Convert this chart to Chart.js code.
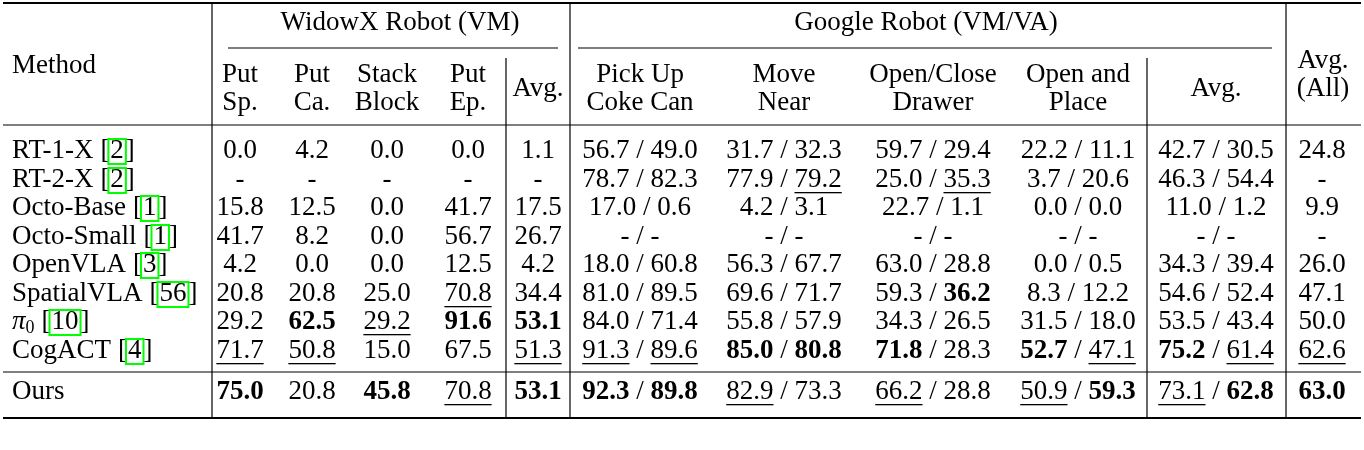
<!DOCTYPE html>
<html><head><meta charset="utf-8">
<script src="https://cdn.jsdelivr.net/npm/chart.js@4"></script>
<style>html,body{margin:0;padding:0;background:#fff}canvas{display:block}</style>
</head><body>
<canvas id="c" width="1364" height="450"></canvas>
<script>
const methods = ["RT-1-X","RT-2-X","Octo-Base","Octo-Small","OpenVLA","SpatialVLA","π0","CogACT","Ours"];
const cites = ["2","2","1","1","3","56","10","4",null];
const widowCols = [["Put","Sp."],["Put","Ca."],["Stack","Block"],["Put","Ep."],["Avg."]];
const googleCols = [["Pick Up","Coke Can"],["Move","Near"],["Open/Close","Drawer"],["Open and","Place"],["Avg."]];
const widowX = [
 [0.0,4.2,0.0,0.0,1.1],[null,null,null,null,null],[15.8,12.5,0.0,41.7,17.5],[41.7,8.2,0.0,56.7,26.7],
 [4.2,0.0,0.0,12.5,4.2],[20.8,20.8,25.0,70.8,34.4],[29.2,62.5,29.2,91.6,53.1],[71.7,50.8,15.0,67.5,51.3],[75.0,20.8,45.8,70.8,53.1]];
const googleVM = [
 [56.7,31.7,59.7,22.2,42.7],[78.7,77.9,25.0,3.7,46.3],[17.0,4.2,22.7,0.0,11.0],[null,null,null,null,null],
 [18.0,56.3,63.0,0.0,34.3],[81.0,69.6,59.3,8.3,54.6],[84.0,55.8,34.3,31.5,53.5],[91.3,85.0,71.8,52.7,75.2],[92.3,82.9,66.2,50.9,73.1]];
const googleVA = [
 [49.0,32.3,29.4,11.1,30.5],[82.3,79.2,35.3,20.6,54.4],[0.6,3.1,1.1,0.0,1.2],[null,null,null,null,null],
 [60.8,67.7,28.8,0.5,39.4],[89.5,71.7,36.2,12.2,52.4],[71.4,57.9,26.5,18.0,43.4],[89.6,80.8,28.3,47.1,61.4],[89.8,73.3,28.8,59.3,62.8]];
const avgAll = [24.8,null,9.9,null,26.0,47.1,50.0,62.6,63.0];
// emphasis: row -> {part index: 'b'|'u'}; parts 0-4 WidowX, 5-14 Google VM/VA pairs, 15 Avg(All)
const emphasis = {
 1:{8:'u',10:'u'},
 5:{3:'u',10:'b'},
 6:{1:'b',2:'u',3:'b',4:'b'},
 7:{0:'u',1:'u',4:'u',5:'u',6:'u',7:'b',8:'b',9:'b',11:'b',12:'u',13:'b',14:'u',15:'u'},
 8:{0:'b',2:'b',3:'u',4:'b',5:'b',6:'b',7:'u',9:'u',11:'u',12:'b',13:'u',14:'b',15:'b'}
};

// layout (pixels)
const colX = [240,312,387,468,538, 640,784,933,1078,1216, 1322];
const rowY = [151,180,208,237,265,294,322,351,392];
const F = "Liberation Serif";
const fmt = v => v===null ? "-" : v.toFixed(1);

const points = [];
rowY.forEach(y => colX.forEach(x => points.push({x, y})));

function seg(t, st){ return {t, b: st==='b', u: st==='u'}; }
function drawSegs(ctx, segs, cx, y, size){
  let w = 0;
  segs.forEach(s => { ctx.font = (s.b?'bold ':'') + size + 'px "' + F + '"'; s.w = ctx.measureText(s.t).width; w += s.w; });
  let x = cx - w/2;
  segs.forEach(s => {
    ctx.font = (s.b?'bold ':'') + size + 'px "' + F + '"';
    ctx.fillText(s.t, x, y);
    if (s.u){ ctx.fillRect(x, y+12, s.w, 1.3); }
    x += s.w;
  });
}

const tablePlugin = {
  id: 'table',
  afterDraw(chart){
    const ctx = chart.ctx, xs = chart.scales.x, ys = chart.scales.y;
    const X = v => xs.getPixelForValue(v), Y = v => ys.getPixelForValue(v);
    ctx.save();
    ctx.fillStyle = '#000'; ctx.strokeStyle = '#000';
    ctx.textBaseline = 'middle';
    const size = 27;
    const hline = (x1,x2,y,w) => { ctx.lineWidth = w; ctx.beginPath(); ctx.moveTo(X(x1),Y(y)); ctx.lineTo(X(x2),Y(y)); ctx.stroke(); };
    const vline = (x,y1,y2) => { ctx.lineWidth = 1.2; ctx.beginPath(); ctx.moveTo(X(x),Y(y1)); ctx.lineTo(X(x),Y(y2)); ctx.stroke(); };
    hline(3,1361,3,2.2); hline(3,1361,125,1.2); hline(3,1361,372,1.2); hline(3,1361,418,2.2);
    hline(228,558,48,1.2); hline(578,1272,48,1.2);
    vline(212,3,418); vline(570,3,418); vline(1286,3,418);
    vline(506,58,418); vline(1147,58,418);
    ctx.font = size + 'px "' + F + '"';
    ctx.textAlign = 'left';
    ctx.fillText('Method', X(12), Y(66));
    ctx.textAlign = 'center';
    ctx.fillText('WidowX Robot (VM)', X(400), Y(23));
    ctx.fillText('Google Robot (VM/VA)', X(926), Y(23));
    ctx.fillText('Avg.', X(1323), Y(61)); ctx.fillText('(All)', X(1323), Y(89));
    const hdr = widowCols.concat(googleCols);
    hdr.forEach((h,i) => {
      if (h.length === 1) ctx.fillText(h[0], X(colX[i]), Y(89));
      else { ctx.fillText(h[0], X(colX[i]), Y(75)); ctx.fillText(h[1], X(colX[i]), Y(103)); }
    });
    methods.forEach((m, r) => {
      const y = Y(rowY[r]);
      ctx.textAlign = 'left';
      ctx.font = size + 'px "' + F + '"';
      let x = X(12);
      if (m === 'π0'){
        ctx.font = 'italic ' + size + 'px "' + F + '"';
        ctx.fillText('π', x, y); x += ctx.measureText('π').width;
        ctx.font = '18px "' + F + '"';
        ctx.fillText('0', x, y+6); x += ctx.measureText('0').width;
        ctx.font = size + 'px "' + F + '"';
      } else { ctx.fillText(m, x, y); x += ctx.measureText(m).width; }
      if (cites[r]){
        x += 7;
        ctx.fillText('[', x, y); x += ctx.measureText('[').width;
        const cw = ctx.measureText(cites[r]).width;
        ctx.fillText(cites[r], x+1, y);
        ctx.strokeStyle = '#00ff00'; ctx.lineWidth = 2;
        ctx.strokeRect(x-1, y-12, cw+4, 25);
        ctx.strokeStyle = '#000';
        x += cw + 3;
        ctx.fillText(']', x, y);
      }
      const e = emphasis[r] || {};
      widowX[r].forEach((v,i) => drawSegs(ctx, [seg(fmt(v), e[i])], X(colX[i]), y, size));
      for (let i=0;i<5;i++){
        const a = googleVM[r][i], b = googleVA[r][i];
        const segs = a===null ? [seg('- / -')] :
          [seg(fmt(a), e[5+2*i]), seg(' / '), seg(fmt(b), e[6+2*i])];
        drawSegs(ctx, segs, X(colX[5+i]), y, size);
      }
      drawSegs(ctx, [seg(fmt(avgAll[r]), e[15])], X(colX[10]), y, size);
    });
    ctx.restore();
  }
};

new Chart(document.getElementById('c'), {
  type: 'scatter',
  data: { datasets: [{ data: points, pointRadius: 0, pointHoverRadius: 0 }] },
  options: {
    responsive: false, animation: false, devicePixelRatio: 1,
    layout: { padding: 0 },
    plugins: { legend: { display: false }, tooltip: { enabled: false } },
    events: [],
    scales: {
      x: { type: 'linear', min: 0, max: 1364, display: false },
      y: { type: 'linear', min: 0, max: 450, reverse: true, display: false }
    }
  },
  plugins: [tablePlugin]
});
</script>
</body></html>
